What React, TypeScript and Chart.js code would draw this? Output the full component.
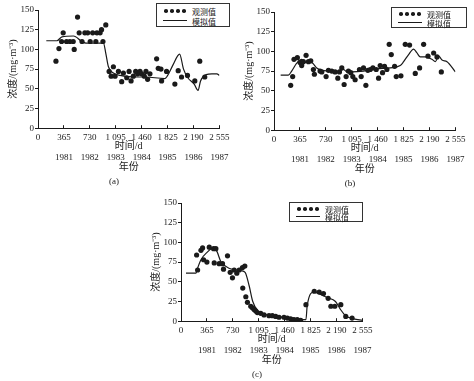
import React, { useEffect, useRef } from "react";
import { Chart, registerables } from "chart.js";

Chart.register(...registerables);

// ---------- data ----------
const xTickValues = [0, 365, 730, 1095, 1460, 1825, 2190, 2555];
const xTickLabels = ["0", "365", "730", "1 095", "1 460", "1 825", "2 190", "2 555"];
const yearLabels = ["", "1981", "1982", "1983", "1984", "1985", "1986", "1987"];
const yTickValues = [0, 25, 50, 75, 100, 125, 150];

const legendObs = "观测值";
const legendSim = "模拟值";
const xTitle = "时间/d";
const x2Title = "年份";
const yTitle = "浓度/(mg·m⁻³)";

// (a)
const obsAx = [253, 295, 332, 355, 402, 449, 496, 510, 557, 580, 620, 660, 700, 735, 770, 815, 830, 875, 895, 915, 955,
  1002, 1030, 1062, 1086, 1133, 1179, 1203, 1250, 1283, 1311, 1343, 1376, 1404, 1437, 1460, 1498, 1521, 1544, 1577,
  1671, 1694, 1732, 1741, 1811, 1928, 1975, 2022, 2106, 2209, 2279, 2349];
const obsAy = [85, 101, 110, 121, 110, 110, 110, 100, 141, 121, 110, 121, 121, 110, 121, 110, 121, 121, 125, 110, 131,
  72, 66, 78, 66, 72, 59, 70, 64, 72, 60, 66, 72, 69, 72, 69, 66, 72, 62, 69,
  88, 76, 75, 60, 72, 56, 73, 65, 67, 60, 85, 65];
const simAx = [117, 267, 337, 500, 618, 674, 922, 955, 992, 1062, 1156, 1413, 1507, 1788, 1820, 1900, 1995, 2050, 2110,
  2200, 2255, 2290, 2370, 2450, 2520, 2555];
const simAy = [111, 111, 116, 117, 110, 108, 108, 95, 78, 70, 67, 65, 65, 63, 66, 80, 94, 75, 64,
  56, 48, 60, 68, 69, 69, 67];

// (b)
const obsBx = [235, 263, 282, 329, 367, 390, 414, 452, 485, 518, 555, 569, 649, 673, 734, 767, 814, 861, 899, 922, 955,
  988, 1016, 1049, 1082, 1110, 1143, 1204, 1228, 1261, 1294, 1322, 1355, 1393, 1440, 1473, 1496, 1529, 1557, 1590,
  1623, 1652, 1699, 1722, 1788, 1849, 1910, 1990, 2051, 2108, 2169, 2249, 2296, 2357];
const obsBy = [57, 68, 90, 92, 86, 82, 87, 95, 87, 88, 77, 71, 75, 74, 68, 76, 75, 74, 66, 74, 79,
  58, 68, 75, 73, 68, 64, 77, 68, 79, 57, 76, 77, 79, 77, 66, 82, 73, 81, 77,
  109, 96, 81, 68, 69, 109, 108, 72, 79, 109, 94, 98, 93, 74];
const simBx = [94, 202, 249, 320, 390, 438, 485, 546, 602, 673, 790, 885, 979, 1026, 1096, 1261, 1449, 1637, 1778, 1826,
  1896, 1967, 2014, 2061, 2131, 2225, 2273, 2320, 2367, 2437, 2555];
const simBy = [70, 70, 75, 85, 90, 86, 88, 85, 79, 76, 75, 73, 77, 74, 74, 75, 78, 79, 82, 87,
  96, 103, 98, 93, 93, 90, 87, 94, 89, 87, 74];

// (c)
const obsCx = [220, 234, 281, 304, 318, 365, 398, 459, 468, 491, 538, 585, 599, 655, 693, 725, 749, 786, 819, 866, 870,
  899, 913, 936, 983, 1006, 1030, 1053, 1076, 1123, 1170, 1240, 1287, 1334, 1381, 1451, 1498, 1544, 1591, 1638, 1685,
  1760, 1877, 1947, 2007, 2073, 2111, 2167, 2251, 2321, 2410];
const obsCy = [84, 65, 90, 93, 78, 75, 94, 92, 74, 92, 73, 73, 66, 83, 62, 55, 65, 61, 65, 68, 42,
  70, 31, 24, 19, 17, 15, 13, 11, 10, 8, 7, 7, 6, 5, 5, 4, 3, 2, 2, 1,
  21, 38, 37, 35, 29, 19, 19, 21, 6, 4];
const simCx = [70, 211, 225, 281, 374, 435, 496, 566, 847, 903, 960, 1011, 1081, 1170, 1264, 1451, 1638, 1760, 1778,
  1872, 1942, 2059, 2176, 2246, 2317, 2434, 2555];
const simCy = [61, 61, 65, 78, 88, 92, 90, 75, 64, 62, 45, 25, 13, 9, 7, 5, 3, 2, 20,
  37, 35, 30, 25, 15, 7, 3, 1];

// ---------- styling ----------
const INK = "#1a1a1a";
const SERIF = '"Liberation Serif", "Times New Roman", "Noto Sans CJK SC", serif';
const CJK = '"Liberation Serif", "Noto Sans CJK SC", sans-serif';

function pts(xs: number[], ys: number[]) {
  return xs.map((x, i) => ({ x, y: ys[i] }));
}

function setTicks(values: number[]) {
  return (s: any) => {
    s.ticks = values.map((v) => ({ value: v }));
  };
}

function makeConfig(ox: number[], oy: number[], sx: number[], sy: number[], tag: string): any {
  return {
    type: "scatter",
    data: {
      datasets: [
        {
          label: legendObs,
          data: pts(ox, oy),
          showLine: false,
          pointRadius: 2.6,
          pointBorderWidth: 0,
          pointBackgroundColor: INK,
          borderColor: INK,
        },
        {
          label: legendSim,
          data: pts(sx, sy),
          showLine: true,
          borderColor: INK,
          borderWidth: 1.2,
          pointRadius: 0,
          fill: false,
          cubicInterpolationMode: "monotone",
        },
      ],
    },
    options: {
      responsive: false,
      animation: false,
      layout: { padding: { left: 8, right: 17, top: 10, bottom: 0 } },
      plugins: {
        legend: { display: false },
        tooltip: { enabled: false },
        title: {
          display: true,
          text: tag,
          position: "bottom",
          color: INK,
          font: { family: SERIF, size: 9, lineHeight: 1.2, weight: "normal" },
          padding: { top: 0, bottom: 3 },
        },
      },
      scales: {
        x: {
          type: "linear",
          position: "bottom",
          min: 0,
          max: 2555,
          afterBuildTicks: setTicks(xTickValues),
          afterFit: (s: any) => {
            s.height = 23;
          },
          ticks: {
            autoSkip: false,
            maxRotation: 0,
            padding: 7.5,
            color: INK,
            font: { family: SERIF, size: 9, lineHeight: 1 },
            callback: (v: number) => xTickLabels[xTickValues.indexOf(v)],
          },
          grid: { display: true, drawOnChartArea: false, drawTicks: true, tickLength: -3, color: INK },
          border: { display: true, color: INK, width: 1 },
          title: {
            display: true,
            text: xTitle,
            color: INK,
            font: { family: CJK, size: 10, lineHeight: 1 },
            padding: { top: 0, bottom: 0 },
          },
        },
        y: {
          type: "linear",
          position: "left",
          min: 0,
          max: 150,
          afterBuildTicks: setTicks(yTickValues),
          afterFit: (s: any) => {
            s.width = 30;
          },
          ticks: {
            padding: 1,
            color: INK,
            font: { family: SERIF, size: 9, lineHeight: 1 },
          },
          grid: { display: true, drawOnChartArea: false, drawTicks: true, tickLength: 3, color: INK },
          border: { display: true, color: INK, width: 1 },
          title: {
            display: true,
            text: yTitle,
            color: INK,
            font: { family: CJK, size: 10, lineHeight: 1 },
            padding: { top: 0, bottom: 0 },
          },
        },
        x2: {
          type: "linear",
          position: "bottom",
          min: 0,
          max: 2555,
          afterBuildTicks: setTicks(xTickValues),
          afterFit: (s: any) => {
            s.height = 25;
          },
          ticks: {
            autoSkip: false,
            maxRotation: 0,
            padding: 1.5,
            color: INK,
            font: { family: SERIF, size: 9, lineHeight: 1 },
            callback: (v: number) => yearLabels[xTickValues.indexOf(v)],
          },
          grid: { display: false, drawTicks: false },
          border: { display: false },
          title: {
            display: true,
            text: x2Title,
            color: INK,
            font: { family: CJK, size: 10, lineHeight: 1 },
            padding: { top: 0, bottom: 4 },
          },
        },
      },
    },
  };
}

function Panel(props: { cfg: any; left: number; top: number }) {
  const ref = useRef<HTMLCanvasElement | null>(null);
  useEffect(() => {
    if (!ref.current) return;
    const chart = new Chart(ref.current, props.cfg);
    return () => chart.destroy();
  }, []);
  return (
    <canvas
      ref={ref}
      width={237}
      height={190}
      style={{ position: "absolute", left: props.left, top: props.top, width: 237, height: 190 }}
    />
  );
}

function Legend(props: { left: number; top: number; w: number; h: number }) {
  const { left, top, w, h } = props;
  const r1 = h * 0.3;
  const r2 = h * 0.72;
  const dots = [0, 1, 2, 3];
  const textStyle: any = {
    position: "absolute",
    left: 35,
    fontFamily: '"Noto Sans CJK SC", sans-serif',
    fontSize: 8,
    lineHeight: "9px",
    color: INK,
    whiteSpace: "nowrap",
  };
  return (
    <div
      style={{
        position: "absolute",
        left,
        top,
        width: w,
        height: h,
        border: "1px solid #333",
        boxSizing: "border-box",
        background: "white",
      }}
    >
      {dots.map((i) => (
        <span
          key={i}
          style={{
            position: "absolute",
            left: 7 + i * 6,
            top: r1 - 2,
            width: 3.6,
            height: 3.6,
            borderRadius: "50%",
            background: INK,
          }}
        />
      ))}
      <span
        style={{ position: "absolute", left: 6, top: r2 - 1, width: 24, height: 1, background: INK }}
      />
      <span style={{ ...textStyle, top: r1 - 4.5 }}>{legendObs}</span>
      <span style={{ ...textStyle, top: r2 - 4.5 }}>{legendSim}</span>
    </div>
  );
}

export default function App() {
  const cfgA = makeConfig(obsAx, obsAy, simAx, simAy, "(a)");
  const cfgB = makeConfig(obsBx, obsBy, simBx, simBy, "(b)");
  const cfgC = makeConfig(obsCx, obsCy, simCx, simCy, "(c)");
  return (
    <div
      style={{
        position: "fixed",
        left: 0,
        top: 0,
        width: 474,
        height: 381,
        background: "white",
        overflow: "hidden",
      }}
    >
      <Panel cfg={cfgA} left={0} top={0} />
      <Panel cfg={cfgB} left={236} top={2} />
      <Panel cfg={cfgC} left={143} top={193} />
      <Legend left={156} top={3} w={74} h={24} />
      <Legend left={391} top={7} w={76} h={21} />
      <Legend left={289} top={202} w={74} h={20} />
    </div>
  );
}
